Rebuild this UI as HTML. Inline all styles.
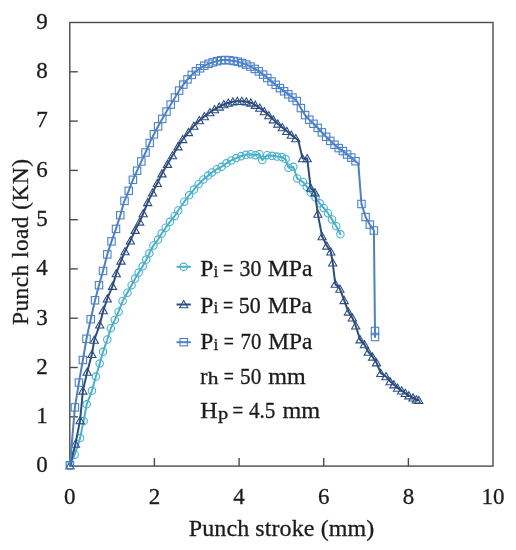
<!DOCTYPE html>
<html lang="en"><head><meta charset="utf-8"><title>Punch load vs punch stroke</title>
<style>html,body{margin:0;padding:0;background:#fff}body{width:516px;height:550px;overflow:hidden}svg{display:block}</style></head>
<body>
<svg width="516" height="550" viewBox="0 0 516 550">
<rect width="516" height="550" fill="#fff"/>
<rect x="69.8" y="22.5" width="423.2" height="443.6" fill="none" stroke="#4c4c4c" stroke-width="1.4"/>
<line x1="69.8" y1="416.8" x2="77.8" y2="416.8" stroke="#4c4c4c" stroke-width="1.4"/>
<line x1="69.8" y1="367.5" x2="77.8" y2="367.5" stroke="#4c4c4c" stroke-width="1.4"/>
<line x1="69.8" y1="318.2" x2="77.8" y2="318.2" stroke="#4c4c4c" stroke-width="1.4"/>
<line x1="69.8" y1="268.9" x2="77.8" y2="268.9" stroke="#4c4c4c" stroke-width="1.4"/>
<line x1="69.8" y1="219.7" x2="77.8" y2="219.7" stroke="#4c4c4c" stroke-width="1.4"/>
<line x1="69.8" y1="170.4" x2="77.8" y2="170.4" stroke="#4c4c4c" stroke-width="1.4"/>
<line x1="69.8" y1="121.1" x2="77.8" y2="121.1" stroke="#4c4c4c" stroke-width="1.4"/>
<line x1="69.8" y1="71.8" x2="77.8" y2="71.8" stroke="#4c4c4c" stroke-width="1.4"/>
<line x1="154.4" y1="466.1" x2="154.4" y2="458.1" stroke="#4c4c4c" stroke-width="1.4"/>
<line x1="239.1" y1="466.1" x2="239.1" y2="458.1" stroke="#4c4c4c" stroke-width="1.4"/>
<line x1="323.7" y1="466.1" x2="323.7" y2="458.1" stroke="#4c4c4c" stroke-width="1.4"/>
<line x1="408.4" y1="466.1" x2="408.4" y2="458.1" stroke="#4c4c4c" stroke-width="1.4"/>
<polyline fill="none" stroke="#48b0d0" stroke-width="2" stroke-linejoin="round" stroke-linecap="round" points="70.0,465.5 74.7,454.7 80.1,438.1 83.6,421.1 86.7,404.3 91.9,390.8 95.9,376.6 99.7,363.6 103.0,351.8 107.3,339.5 110.8,328.2 114.8,319.9 118.6,311.7 122.6,301.0 127.4,292.7 131.6,285.2 135.2,278.6 138.7,272.6 142.7,266.3 146.3,259.6 149.4,253.3 153.4,245.5 158.1,239.6 161.7,233.6 165.7,227.7 169.9,221.8 174.7,215.9 178.2,210.5 184.3,201.7 189.1,195.3 193.9,189.6 198.6,184.2 203.4,179.4 208.2,175.6 211.9,172.5 216.8,169.2 221.6,166.8 226.5,163.3 231.3,160.4 236.2,158.1 241.0,156.2 245.9,154.8 250.7,154.2 255.5,155.2 259.4,154.2 262.3,160.0 267.2,155.2 272.0,155.8 276.9,156.6 281.7,157.1 285.6,159.1 288.5,167.8 293.3,166.8 297.2,178.4 303.0,182.0 306.7,186.7 310.7,192.6 315.5,197.4 319.7,203.3 323.7,208.0 328.0,213.2 332.0,219.4 336.3,226.2 340.4,234.3"/>
<circle cx="70.0" cy="465.5" r="3.7" fill="none" stroke="#48b0d0" stroke-width="1.1"/>
<circle cx="74.7" cy="454.7" r="3.7" fill="none" stroke="#48b0d0" stroke-width="1.1"/>
<circle cx="80.1" cy="438.1" r="3.7" fill="none" stroke="#48b0d0" stroke-width="1.1"/>
<circle cx="83.6" cy="421.1" r="3.7" fill="none" stroke="#48b0d0" stroke-width="1.1"/>
<circle cx="86.7" cy="404.3" r="3.7" fill="none" stroke="#48b0d0" stroke-width="1.1"/>
<circle cx="91.9" cy="390.8" r="3.7" fill="none" stroke="#48b0d0" stroke-width="1.1"/>
<circle cx="95.9" cy="376.6" r="3.7" fill="none" stroke="#48b0d0" stroke-width="1.1"/>
<circle cx="99.7" cy="363.6" r="3.7" fill="none" stroke="#48b0d0" stroke-width="1.1"/>
<circle cx="103.0" cy="351.8" r="3.7" fill="none" stroke="#48b0d0" stroke-width="1.1"/>
<circle cx="107.3" cy="339.5" r="3.7" fill="none" stroke="#48b0d0" stroke-width="1.1"/>
<circle cx="110.8" cy="328.2" r="3.7" fill="none" stroke="#48b0d0" stroke-width="1.1"/>
<circle cx="114.8" cy="319.9" r="3.7" fill="none" stroke="#48b0d0" stroke-width="1.1"/>
<circle cx="118.6" cy="311.7" r="3.7" fill="none" stroke="#48b0d0" stroke-width="1.1"/>
<circle cx="122.6" cy="301.0" r="3.7" fill="none" stroke="#48b0d0" stroke-width="1.1"/>
<circle cx="127.4" cy="292.7" r="3.7" fill="none" stroke="#48b0d0" stroke-width="1.1"/>
<circle cx="131.6" cy="285.2" r="3.7" fill="none" stroke="#48b0d0" stroke-width="1.1"/>
<circle cx="135.2" cy="278.6" r="3.7" fill="none" stroke="#48b0d0" stroke-width="1.1"/>
<circle cx="138.7" cy="272.6" r="3.7" fill="none" stroke="#48b0d0" stroke-width="1.1"/>
<circle cx="142.7" cy="266.3" r="3.7" fill="none" stroke="#48b0d0" stroke-width="1.1"/>
<circle cx="146.3" cy="259.6" r="3.7" fill="none" stroke="#48b0d0" stroke-width="1.1"/>
<circle cx="149.4" cy="253.3" r="3.7" fill="none" stroke="#48b0d0" stroke-width="1.1"/>
<circle cx="153.4" cy="245.5" r="3.7" fill="none" stroke="#48b0d0" stroke-width="1.1"/>
<circle cx="158.1" cy="239.6" r="3.7" fill="none" stroke="#48b0d0" stroke-width="1.1"/>
<circle cx="161.7" cy="233.6" r="3.7" fill="none" stroke="#48b0d0" stroke-width="1.1"/>
<circle cx="165.7" cy="227.7" r="3.7" fill="none" stroke="#48b0d0" stroke-width="1.1"/>
<circle cx="169.9" cy="221.8" r="3.7" fill="none" stroke="#48b0d0" stroke-width="1.1"/>
<circle cx="174.7" cy="215.9" r="3.7" fill="none" stroke="#48b0d0" stroke-width="1.1"/>
<circle cx="178.2" cy="210.5" r="3.7" fill="none" stroke="#48b0d0" stroke-width="1.1"/>
<circle cx="184.3" cy="201.7" r="3.7" fill="none" stroke="#48b0d0" stroke-width="1.1"/>
<circle cx="189.1" cy="195.3" r="3.7" fill="none" stroke="#48b0d0" stroke-width="1.1"/>
<circle cx="193.9" cy="189.6" r="3.7" fill="none" stroke="#48b0d0" stroke-width="1.1"/>
<circle cx="198.6" cy="184.2" r="3.7" fill="none" stroke="#48b0d0" stroke-width="1.1"/>
<circle cx="203.4" cy="179.4" r="3.7" fill="none" stroke="#48b0d0" stroke-width="1.1"/>
<circle cx="208.2" cy="175.6" r="3.7" fill="none" stroke="#48b0d0" stroke-width="1.1"/>
<circle cx="211.9" cy="172.5" r="3.7" fill="none" stroke="#48b0d0" stroke-width="1.1"/>
<circle cx="216.8" cy="169.2" r="3.7" fill="none" stroke="#48b0d0" stroke-width="1.1"/>
<circle cx="221.6" cy="166.8" r="3.7" fill="none" stroke="#48b0d0" stroke-width="1.1"/>
<circle cx="226.5" cy="163.3" r="3.7" fill="none" stroke="#48b0d0" stroke-width="1.1"/>
<circle cx="231.3" cy="160.4" r="3.7" fill="none" stroke="#48b0d0" stroke-width="1.1"/>
<circle cx="236.2" cy="158.1" r="3.7" fill="none" stroke="#48b0d0" stroke-width="1.1"/>
<circle cx="241.0" cy="156.2" r="3.7" fill="none" stroke="#48b0d0" stroke-width="1.1"/>
<circle cx="245.9" cy="154.8" r="3.7" fill="none" stroke="#48b0d0" stroke-width="1.1"/>
<circle cx="250.7" cy="154.2" r="3.7" fill="none" stroke="#48b0d0" stroke-width="1.1"/>
<circle cx="255.5" cy="155.2" r="3.7" fill="none" stroke="#48b0d0" stroke-width="1.1"/>
<circle cx="259.4" cy="154.2" r="3.7" fill="none" stroke="#48b0d0" stroke-width="1.1"/>
<circle cx="262.3" cy="160.0" r="3.7" fill="none" stroke="#48b0d0" stroke-width="1.1"/>
<circle cx="267.2" cy="155.2" r="3.7" fill="none" stroke="#48b0d0" stroke-width="1.1"/>
<circle cx="272.0" cy="155.8" r="3.7" fill="none" stroke="#48b0d0" stroke-width="1.1"/>
<circle cx="276.9" cy="156.6" r="3.7" fill="none" stroke="#48b0d0" stroke-width="1.1"/>
<circle cx="281.7" cy="157.1" r="3.7" fill="none" stroke="#48b0d0" stroke-width="1.1"/>
<circle cx="285.6" cy="159.1" r="3.7" fill="none" stroke="#48b0d0" stroke-width="1.1"/>
<circle cx="288.5" cy="167.8" r="3.7" fill="none" stroke="#48b0d0" stroke-width="1.1"/>
<circle cx="293.3" cy="166.8" r="3.7" fill="none" stroke="#48b0d0" stroke-width="1.1"/>
<circle cx="297.2" cy="178.4" r="3.7" fill="none" stroke="#48b0d0" stroke-width="1.1"/>
<circle cx="303.0" cy="182.0" r="3.7" fill="none" stroke="#48b0d0" stroke-width="1.1"/>
<circle cx="306.7" cy="186.7" r="3.7" fill="none" stroke="#48b0d0" stroke-width="1.1"/>
<circle cx="310.7" cy="192.6" r="3.7" fill="none" stroke="#48b0d0" stroke-width="1.1"/>
<circle cx="315.5" cy="197.4" r="3.7" fill="none" stroke="#48b0d0" stroke-width="1.1"/>
<circle cx="319.7" cy="203.3" r="3.7" fill="none" stroke="#48b0d0" stroke-width="1.1"/>
<circle cx="323.7" cy="208.0" r="3.7" fill="none" stroke="#48b0d0" stroke-width="1.1"/>
<circle cx="328.0" cy="213.2" r="3.7" fill="none" stroke="#48b0d0" stroke-width="1.1"/>
<circle cx="332.0" cy="219.4" r="3.7" fill="none" stroke="#48b0d0" stroke-width="1.1"/>
<circle cx="336.3" cy="226.2" r="3.7" fill="none" stroke="#48b0d0" stroke-width="1.1"/>
<circle cx="340.4" cy="234.3" r="3.7" fill="none" stroke="#48b0d0" stroke-width="1.1"/>
<polyline fill="none" stroke="#2c4d82" stroke-width="2" stroke-linejoin="round" stroke-linecap="round" points="70.0,465.5 75.4,444.0 80.1,420.4 82.9,390.8 87.2,371.9 91.9,354.2 94.3,340.0 99.7,324.7 103.3,310.5 107.3,298.7 112.5,286.1 116.3,273.4 121.0,260.8 125.0,251.4 130.4,240.7 135.2,230.1 139.7,221.8 143.2,213.5 147.7,202.3 152.5,192.7 157.3,183.2 162.0,173.6 167.5,164.1 172.5,155.5 178.0,146.6 182.7,139.3 188.5,132.3 193.9,125.9 199.3,120.5 204.4,116.4 209.8,112.5 214.5,109.4 219.3,106.8 224.1,104.3 228.9,102.7 233.6,101.5 239.1,101.0 245.5,101.5 251.8,103.0 258.2,106.8 264.5,111.6 270.9,117.3 277.3,123.4 283.6,128.5 289.5,133.5 294.2,137.1 298.4,140.6 302.5,158.4 307.2,158.4 310.7,187.9 315.0,192.6 317.8,213.9 322.1,236.4 326.8,245.8 330.8,251.7 332.7,262.7 335.3,284.0 339.9,288.9 344.2,300.3 348.4,311.8 352.3,317.7 355.7,325.7 360.1,339.6 364.4,344.5 368.3,351.9 372.6,356.8 376.5,362.6 380.8,373.2 386.0,376.5 390.1,381.4 393.9,384.6 397.5,387.9 401.6,390.7 405.3,393.2 408.9,395.6 413.0,397.7 416.3,399.7 418.7,400.2"/>
<polygon points="70.0,461.6 74.1,468.8 65.9,468.8" fill="none" stroke="#2c4d82" stroke-width="1.1"/>
<polygon points="75.4,440.1 79.5,447.3 71.3,447.3" fill="none" stroke="#2c4d82" stroke-width="1.1"/>
<polygon points="80.1,416.5 84.2,423.7 76.0,423.7" fill="none" stroke="#2c4d82" stroke-width="1.1"/>
<polygon points="82.9,386.9 87.0,394.1 78.8,394.1" fill="none" stroke="#2c4d82" stroke-width="1.1"/>
<polygon points="87.2,368.0 91.3,375.2 83.1,375.2" fill="none" stroke="#2c4d82" stroke-width="1.1"/>
<polygon points="91.9,350.3 96.0,357.5 87.8,357.5" fill="none" stroke="#2c4d82" stroke-width="1.1"/>
<polygon points="94.3,336.1 98.4,343.3 90.2,343.3" fill="none" stroke="#2c4d82" stroke-width="1.1"/>
<polygon points="99.7,320.8 103.8,328.0 95.6,328.0" fill="none" stroke="#2c4d82" stroke-width="1.1"/>
<polygon points="103.3,306.6 107.4,313.8 99.2,313.8" fill="none" stroke="#2c4d82" stroke-width="1.1"/>
<polygon points="107.3,294.8 111.4,302.0 103.2,302.0" fill="none" stroke="#2c4d82" stroke-width="1.1"/>
<polygon points="112.5,282.2 116.6,289.4 108.4,289.4" fill="none" stroke="#2c4d82" stroke-width="1.1"/>
<polygon points="116.3,269.5 120.4,276.7 112.2,276.7" fill="none" stroke="#2c4d82" stroke-width="1.1"/>
<polygon points="121.0,256.9 125.1,264.1 116.9,264.1" fill="none" stroke="#2c4d82" stroke-width="1.1"/>
<polygon points="125.0,247.5 129.1,254.7 120.9,254.7" fill="none" stroke="#2c4d82" stroke-width="1.1"/>
<polygon points="130.4,236.8 134.5,244.0 126.3,244.0" fill="none" stroke="#2c4d82" stroke-width="1.1"/>
<polygon points="135.2,226.2 139.3,233.4 131.1,233.4" fill="none" stroke="#2c4d82" stroke-width="1.1"/>
<polygon points="139.7,217.9 143.8,225.1 135.6,225.1" fill="none" stroke="#2c4d82" stroke-width="1.1"/>
<polygon points="143.2,209.6 147.3,216.8 139.1,216.8" fill="none" stroke="#2c4d82" stroke-width="1.1"/>
<polygon points="147.7,198.4 151.8,205.6 143.6,205.6" fill="none" stroke="#2c4d82" stroke-width="1.1"/>
<polygon points="152.5,188.8 156.6,196.0 148.4,196.0" fill="none" stroke="#2c4d82" stroke-width="1.1"/>
<polygon points="157.3,179.3 161.4,186.5 153.2,186.5" fill="none" stroke="#2c4d82" stroke-width="1.1"/>
<polygon points="162.0,169.7 166.1,176.9 157.9,176.9" fill="none" stroke="#2c4d82" stroke-width="1.1"/>
<polygon points="167.5,160.2 171.6,167.4 163.4,167.4" fill="none" stroke="#2c4d82" stroke-width="1.1"/>
<polygon points="172.5,151.6 176.6,158.8 168.4,158.8" fill="none" stroke="#2c4d82" stroke-width="1.1"/>
<polygon points="178.0,142.7 182.1,149.9 173.9,149.9" fill="none" stroke="#2c4d82" stroke-width="1.1"/>
<polygon points="182.7,135.4 186.8,142.6 178.6,142.6" fill="none" stroke="#2c4d82" stroke-width="1.1"/>
<polygon points="188.5,128.4 192.6,135.6 184.4,135.6" fill="none" stroke="#2c4d82" stroke-width="1.1"/>
<polygon points="193.9,122.0 198.0,129.2 189.8,129.2" fill="none" stroke="#2c4d82" stroke-width="1.1"/>
<polygon points="199.3,116.6 203.4,123.8 195.2,123.8" fill="none" stroke="#2c4d82" stroke-width="1.1"/>
<polygon points="204.4,112.5 208.5,119.7 200.3,119.7" fill="none" stroke="#2c4d82" stroke-width="1.1"/>
<polygon points="209.8,108.6 213.9,115.8 205.7,115.8" fill="none" stroke="#2c4d82" stroke-width="1.1"/>
<polygon points="214.5,105.5 218.6,112.7 210.4,112.7" fill="none" stroke="#2c4d82" stroke-width="1.1"/>
<polygon points="219.3,102.9 223.4,110.1 215.2,110.1" fill="none" stroke="#2c4d82" stroke-width="1.1"/>
<polygon points="223.8,100.5 227.9,107.8 219.7,107.8" fill="none" stroke="#2c4d82" stroke-width="1.1"/>
<polygon points="228.3,99.0 232.4,106.2 224.2,106.2" fill="none" stroke="#2c4d82" stroke-width="1.1"/>
<polygon points="232.8,97.8 236.9,105.0 228.7,105.0" fill="none" stroke="#2c4d82" stroke-width="1.1"/>
<polygon points="237.3,97.3 241.4,104.5 233.2,104.5" fill="none" stroke="#2c4d82" stroke-width="1.1"/>
<polygon points="241.8,97.3 245.9,104.5 237.7,104.5" fill="none" stroke="#2c4d82" stroke-width="1.1"/>
<polygon points="246.3,97.8 250.4,105.0 242.2,105.0" fill="none" stroke="#2c4d82" stroke-width="1.1"/>
<polygon points="250.8,98.9 254.9,106.1 246.7,106.1" fill="none" stroke="#2c4d82" stroke-width="1.1"/>
<polygon points="255.3,101.2 259.4,108.4 251.2,108.4" fill="none" stroke="#2c4d82" stroke-width="1.1"/>
<polygon points="259.8,104.1 263.9,111.3 255.7,111.3" fill="none" stroke="#2c4d82" stroke-width="1.1"/>
<polygon points="264.3,107.5 268.4,114.8 260.2,114.8" fill="none" stroke="#2c4d82" stroke-width="1.1"/>
<polygon points="268.8,111.5 272.9,118.7 264.7,118.7" fill="none" stroke="#2c4d82" stroke-width="1.1"/>
<polygon points="273.3,115.7 277.4,122.9 269.2,122.9" fill="none" stroke="#2c4d82" stroke-width="1.1"/>
<polygon points="277.8,119.9 281.9,127.1 273.7,127.1" fill="none" stroke="#2c4d82" stroke-width="1.1"/>
<polygon points="282.3,123.5 286.4,130.8 278.2,130.8" fill="none" stroke="#2c4d82" stroke-width="1.1"/>
<polygon points="286.8,127.3 290.9,134.5 282.7,134.5" fill="none" stroke="#2c4d82" stroke-width="1.1"/>
<polygon points="291.3,131.0 295.4,138.2 287.2,138.2" fill="none" stroke="#2c4d82" stroke-width="1.1"/>
<polygon points="295.8,134.5 299.9,141.7 291.7,141.7" fill="none" stroke="#2c4d82" stroke-width="1.1"/>
<polygon points="302.5,154.5 306.6,161.7 298.4,161.7" fill="none" stroke="#2c4d82" stroke-width="1.1"/>
<polygon points="307.2,154.5 311.3,161.7 303.1,161.7" fill="none" stroke="#2c4d82" stroke-width="1.1"/>
<polygon points="310.7,184.0 314.8,191.2 306.6,191.2" fill="none" stroke="#2c4d82" stroke-width="1.1"/>
<polygon points="315.0,188.7 319.1,195.9 310.9,195.9" fill="none" stroke="#2c4d82" stroke-width="1.1"/>
<polygon points="317.8,210.0 321.9,217.2 313.7,217.2" fill="none" stroke="#2c4d82" stroke-width="1.1"/>
<polygon points="322.1,232.5 326.2,239.7 318.0,239.7" fill="none" stroke="#2c4d82" stroke-width="1.1"/>
<polygon points="326.8,241.9 330.9,249.1 322.7,249.1" fill="none" stroke="#2c4d82" stroke-width="1.1"/>
<polygon points="330.8,247.8 334.9,255.0 326.7,255.0" fill="none" stroke="#2c4d82" stroke-width="1.1"/>
<polygon points="332.7,258.8 336.8,266.0 328.6,266.0" fill="none" stroke="#2c4d82" stroke-width="1.1"/>
<polygon points="335.3,280.1 339.4,287.3 331.2,287.3" fill="none" stroke="#2c4d82" stroke-width="1.1"/>
<polygon points="339.9,285.0 344.0,292.2 335.8,292.2" fill="none" stroke="#2c4d82" stroke-width="1.1"/>
<polygon points="344.2,296.4 348.3,303.6 340.1,303.6" fill="none" stroke="#2c4d82" stroke-width="1.1"/>
<polygon points="348.4,307.9 352.5,315.1 344.3,315.1" fill="none" stroke="#2c4d82" stroke-width="1.1"/>
<polygon points="352.3,313.8 356.4,321.0 348.2,321.0" fill="none" stroke="#2c4d82" stroke-width="1.1"/>
<polygon points="355.7,321.8 359.8,329.0 351.6,329.0" fill="none" stroke="#2c4d82" stroke-width="1.1"/>
<polygon points="360.1,335.7 364.2,342.9 356.0,342.9" fill="none" stroke="#2c4d82" stroke-width="1.1"/>
<polygon points="364.4,340.6 368.5,347.8 360.3,347.8" fill="none" stroke="#2c4d82" stroke-width="1.1"/>
<polygon points="368.3,348.0 372.4,355.2 364.2,355.2" fill="none" stroke="#2c4d82" stroke-width="1.1"/>
<polygon points="372.6,352.9 376.7,360.1 368.5,360.1" fill="none" stroke="#2c4d82" stroke-width="1.1"/>
<polygon points="376.5,358.7 380.6,365.9 372.4,365.9" fill="none" stroke="#2c4d82" stroke-width="1.1"/>
<polygon points="380.8,369.3 384.9,376.5 376.7,376.5" fill="none" stroke="#2c4d82" stroke-width="1.1"/>
<polygon points="386.0,372.6 390.1,379.8 381.9,379.8" fill="none" stroke="#2c4d82" stroke-width="1.1"/>
<polygon points="390.1,377.5 394.2,384.7 386.0,384.7" fill="none" stroke="#2c4d82" stroke-width="1.1"/>
<polygon points="393.9,380.7 398.0,387.9 389.8,387.9" fill="none" stroke="#2c4d82" stroke-width="1.1"/>
<polygon points="397.5,384.0 401.6,391.2 393.4,391.2" fill="none" stroke="#2c4d82" stroke-width="1.1"/>
<polygon points="401.6,386.8 405.7,394.0 397.5,394.0" fill="none" stroke="#2c4d82" stroke-width="1.1"/>
<polygon points="405.3,389.3 409.4,396.5 401.2,396.5" fill="none" stroke="#2c4d82" stroke-width="1.1"/>
<polygon points="408.9,391.7 413.0,398.9 404.8,398.9" fill="none" stroke="#2c4d82" stroke-width="1.1"/>
<polygon points="413.0,393.8 417.1,401.0 408.9,401.0" fill="none" stroke="#2c4d82" stroke-width="1.1"/>
<polygon points="416.3,395.8 420.4,403.0 412.2,403.0" fill="none" stroke="#2c4d82" stroke-width="1.1"/>
<polygon points="418.7,396.3 422.8,403.5 414.6,403.5" fill="none" stroke="#2c4d82" stroke-width="1.1"/>
<polyline fill="none" stroke="#4b80ca" stroke-width="2" stroke-linejoin="round" stroke-linecap="round" points="69.9,465.3 74.9,407.4 78.9,382.6 82.9,360.0 86.5,338.8 90.7,319.2 95.0,300.3 99.0,285.2 103.0,271.0 107.3,254.4 111.5,241.4 116.0,228.9 120.3,215.2 123.9,202.3 128.6,191.1 132.8,180.0 137.5,169.8 142.3,159.3 146.8,149.8 150.9,140.2 155.7,130.7 160.5,122.1 165.2,113.8 169.4,106.8 174.1,98.9 178.9,90.9 183.4,84.5 188.5,78.2 193.2,73.4 198.6,69.3 203.4,66.1 208.2,63.9 213.0,62.3 217.7,61.0 222.5,60.0 227.3,60.0 232.0,60.7 237.5,61.6 245.5,64.2 251.8,67.2 258.2,70.9 264.5,75.6 270.9,81.0 277.3,86.1 283.6,90.9 290.0,95.5 296.4,100.5 301.1,108.4 305.9,116.4 310.7,121.1 316.6,126.7 320.2,130.5 324.4,135.1 328.5,139.1 332.5,143.0 336.7,146.5 340.3,149.4 343.8,151.7 347.4,154.8 350.9,157.2 354.5,160.4 358.3,163.6 361.5,204.0 365.6,217.0 369.8,224.6 373.9,230.5 375.0,331.0 375.0,337.0"/>
<rect x="66.2" y="461.6" width="7.4" height="7.4" fill="none" stroke="#4b80ca" stroke-width="1.1"/>
<rect x="71.2" y="403.7" width="7.4" height="7.4" fill="none" stroke="#4b80ca" stroke-width="1.1"/>
<rect x="75.2" y="378.9" width="7.4" height="7.4" fill="none" stroke="#4b80ca" stroke-width="1.1"/>
<rect x="79.2" y="356.3" width="7.4" height="7.4" fill="none" stroke="#4b80ca" stroke-width="1.1"/>
<rect x="82.8" y="335.1" width="7.4" height="7.4" fill="none" stroke="#4b80ca" stroke-width="1.1"/>
<rect x="87.0" y="315.5" width="7.4" height="7.4" fill="none" stroke="#4b80ca" stroke-width="1.1"/>
<rect x="91.3" y="296.6" width="7.4" height="7.4" fill="none" stroke="#4b80ca" stroke-width="1.1"/>
<rect x="95.3" y="281.5" width="7.4" height="7.4" fill="none" stroke="#4b80ca" stroke-width="1.1"/>
<rect x="99.3" y="267.3" width="7.4" height="7.4" fill="none" stroke="#4b80ca" stroke-width="1.1"/>
<rect x="103.6" y="250.7" width="7.4" height="7.4" fill="none" stroke="#4b80ca" stroke-width="1.1"/>
<rect x="107.8" y="237.7" width="7.4" height="7.4" fill="none" stroke="#4b80ca" stroke-width="1.1"/>
<rect x="112.3" y="225.2" width="7.4" height="7.4" fill="none" stroke="#4b80ca" stroke-width="1.1"/>
<rect x="116.6" y="211.5" width="7.4" height="7.4" fill="none" stroke="#4b80ca" stroke-width="1.1"/>
<rect x="120.8" y="197.2" width="7.4" height="7.4" fill="none" stroke="#4b80ca" stroke-width="1.1"/>
<rect x="125.0" y="187.1" width="7.4" height="7.4" fill="none" stroke="#4b80ca" stroke-width="1.1"/>
<rect x="129.2" y="176.1" width="7.4" height="7.4" fill="none" stroke="#4b80ca" stroke-width="1.1"/>
<rect x="133.4" y="167.0" width="7.4" height="7.4" fill="none" stroke="#4b80ca" stroke-width="1.1"/>
<rect x="137.6" y="157.8" width="7.4" height="7.4" fill="none" stroke="#4b80ca" stroke-width="1.1"/>
<rect x="141.8" y="148.8" width="7.4" height="7.4" fill="none" stroke="#4b80ca" stroke-width="1.1"/>
<rect x="146.0" y="139.3" width="7.4" height="7.4" fill="none" stroke="#4b80ca" stroke-width="1.1"/>
<rect x="150.2" y="130.6" width="7.4" height="7.4" fill="none" stroke="#4b80ca" stroke-width="1.1"/>
<rect x="154.4" y="122.7" width="7.4" height="7.4" fill="none" stroke="#4b80ca" stroke-width="1.1"/>
<rect x="158.6" y="115.2" width="7.4" height="7.4" fill="none" stroke="#4b80ca" stroke-width="1.1"/>
<rect x="162.8" y="107.9" width="7.4" height="7.4" fill="none" stroke="#4b80ca" stroke-width="1.1"/>
<rect x="167.0" y="100.9" width="7.4" height="7.4" fill="none" stroke="#4b80ca" stroke-width="1.1"/>
<rect x="171.2" y="93.9" width="7.4" height="7.4" fill="none" stroke="#4b80ca" stroke-width="1.1"/>
<rect x="175.4" y="86.9" width="7.4" height="7.4" fill="none" stroke="#4b80ca" stroke-width="1.1"/>
<rect x="179.6" y="80.9" width="7.4" height="7.4" fill="none" stroke="#4b80ca" stroke-width="1.1"/>
<rect x="183.8" y="75.7" width="7.4" height="7.4" fill="none" stroke="#4b80ca" stroke-width="1.1"/>
<rect x="188.0" y="71.2" width="7.4" height="7.4" fill="none" stroke="#4b80ca" stroke-width="1.1"/>
<rect x="192.2" y="67.6" width="7.4" height="7.4" fill="none" stroke="#4b80ca" stroke-width="1.1"/>
<rect x="196.4" y="64.6" width="7.4" height="7.4" fill="none" stroke="#4b80ca" stroke-width="1.1"/>
<rect x="200.6" y="62.0" width="7.4" height="7.4" fill="none" stroke="#4b80ca" stroke-width="1.1"/>
<rect x="204.8" y="60.1" width="7.4" height="7.4" fill="none" stroke="#4b80ca" stroke-width="1.1"/>
<rect x="209.0" y="58.7" width="7.4" height="7.4" fill="none" stroke="#4b80ca" stroke-width="1.1"/>
<rect x="213.2" y="57.5" width="7.4" height="7.4" fill="none" stroke="#4b80ca" stroke-width="1.1"/>
<rect x="217.4" y="56.6" width="7.4" height="7.4" fill="none" stroke="#4b80ca" stroke-width="1.1"/>
<rect x="221.6" y="56.3" width="7.4" height="7.4" fill="none" stroke="#4b80ca" stroke-width="1.1"/>
<rect x="225.8" y="56.6" width="7.4" height="7.4" fill="none" stroke="#4b80ca" stroke-width="1.1"/>
<rect x="230.0" y="57.3" width="7.4" height="7.4" fill="none" stroke="#4b80ca" stroke-width="1.1"/>
<rect x="234.2" y="58.0" width="7.4" height="7.4" fill="none" stroke="#4b80ca" stroke-width="1.1"/>
<rect x="238.4" y="59.4" width="7.4" height="7.4" fill="none" stroke="#4b80ca" stroke-width="1.1"/>
<rect x="242.6" y="60.9" width="7.4" height="7.4" fill="none" stroke="#4b80ca" stroke-width="1.1"/>
<rect x="246.8" y="62.9" width="7.4" height="7.4" fill="none" stroke="#4b80ca" stroke-width="1.1"/>
<rect x="251.0" y="65.2" width="7.4" height="7.4" fill="none" stroke="#4b80ca" stroke-width="1.1"/>
<rect x="255.2" y="67.7" width="7.4" height="7.4" fill="none" stroke="#4b80ca" stroke-width="1.1"/>
<rect x="259.4" y="70.9" width="7.4" height="7.4" fill="none" stroke="#4b80ca" stroke-width="1.1"/>
<rect x="263.6" y="74.3" width="7.4" height="7.4" fill="none" stroke="#4b80ca" stroke-width="1.1"/>
<rect x="267.8" y="77.8" width="7.4" height="7.4" fill="none" stroke="#4b80ca" stroke-width="1.1"/>
<rect x="272.0" y="81.1" width="7.4" height="7.4" fill="none" stroke="#4b80ca" stroke-width="1.1"/>
<rect x="276.2" y="84.4" width="7.4" height="7.4" fill="none" stroke="#4b80ca" stroke-width="1.1"/>
<rect x="280.4" y="87.6" width="7.4" height="7.4" fill="none" stroke="#4b80ca" stroke-width="1.1"/>
<rect x="284.6" y="90.6" width="7.4" height="7.4" fill="none" stroke="#4b80ca" stroke-width="1.1"/>
<rect x="288.8" y="93.8" width="7.4" height="7.4" fill="none" stroke="#4b80ca" stroke-width="1.1"/>
<rect x="293.0" y="97.3" width="7.4" height="7.4" fill="none" stroke="#4b80ca" stroke-width="1.1"/>
<rect x="297.2" y="104.4" width="7.4" height="7.4" fill="none" stroke="#4b80ca" stroke-width="1.1"/>
<rect x="301.4" y="111.4" width="7.4" height="7.4" fill="none" stroke="#4b80ca" stroke-width="1.1"/>
<rect x="305.6" y="116.0" width="7.4" height="7.4" fill="none" stroke="#4b80ca" stroke-width="1.1"/>
<rect x="309.8" y="120.1" width="7.4" height="7.4" fill="none" stroke="#4b80ca" stroke-width="1.1"/>
<rect x="314.0" y="124.2" width="7.4" height="7.4" fill="none" stroke="#4b80ca" stroke-width="1.1"/>
<rect x="318.2" y="128.7" width="7.4" height="7.4" fill="none" stroke="#4b80ca" stroke-width="1.1"/>
<rect x="322.4" y="133.1" width="7.4" height="7.4" fill="none" stroke="#4b80ca" stroke-width="1.1"/>
<rect x="326.6" y="137.2" width="7.4" height="7.4" fill="none" stroke="#4b80ca" stroke-width="1.1"/>
<rect x="330.8" y="141.0" width="7.4" height="7.4" fill="none" stroke="#4b80ca" stroke-width="1.1"/>
<rect x="335.0" y="144.4" width="7.4" height="7.4" fill="none" stroke="#4b80ca" stroke-width="1.1"/>
<rect x="339.2" y="147.4" width="7.4" height="7.4" fill="none" stroke="#4b80ca" stroke-width="1.1"/>
<rect x="343.4" y="150.8" width="7.4" height="7.4" fill="none" stroke="#4b80ca" stroke-width="1.1"/>
<rect x="347.6" y="153.9" width="7.4" height="7.4" fill="none" stroke="#4b80ca" stroke-width="1.1"/>
<rect x="351.8" y="157.5" width="7.4" height="7.4" fill="none" stroke="#4b80ca" stroke-width="1.1"/>
<rect x="357.8" y="200.3" width="7.4" height="7.4" fill="none" stroke="#4b80ca" stroke-width="1.1"/>
<rect x="361.9" y="213.3" width="7.4" height="7.4" fill="none" stroke="#4b80ca" stroke-width="1.1"/>
<rect x="366.1" y="220.9" width="7.4" height="7.4" fill="none" stroke="#4b80ca" stroke-width="1.1"/>
<rect x="370.2" y="226.8" width="7.4" height="7.4" fill="none" stroke="#4b80ca" stroke-width="1.1"/>
<rect x="371.3" y="327.3" width="7.4" height="7.4" fill="none" stroke="#4b80ca" stroke-width="1.1"/>
<rect x="371.3" y="333.3" width="7.4" height="7.4" fill="none" stroke="#4b80ca" stroke-width="1.1"/>
<line x1="176.5" y1="266.8" x2="190.8" y2="266.8" stroke="#48b0d0" stroke-width="2"/>
<circle cx="183.7" cy="266.8" r="3.7" fill="none" stroke="#48b0d0" stroke-width="1.1"/>
<line x1="176.5" y1="304.5" x2="190.8" y2="304.5" stroke="#2c4d82" stroke-width="2"/>
<polygon points="183.7,300.6 187.8,307.8 179.6,307.8" fill="none" stroke="#2c4d82" stroke-width="1.1"/>
<line x1="176.5" y1="342.2" x2="190.8" y2="342.2" stroke="#4b80ca" stroke-width="2"/>
<rect x="180.0" y="338.5" width="7.4" height="7.4" fill="none" stroke="#4b80ca" stroke-width="1.1"/>
<g font-family="'Liberation Serif', serif">
<text x="47.8" y="472.4" text-anchor="end" font-size="23" fill="#1c1c1c" stroke="#1c1c1c" stroke-width="0.3">0</text>
<text x="47.8" y="423.1" text-anchor="end" font-size="23" fill="#1c1c1c" stroke="#1c1c1c" stroke-width="0.3">1</text>
<text x="47.8" y="373.8" text-anchor="end" font-size="23" fill="#1c1c1c" stroke="#1c1c1c" stroke-width="0.3">2</text>
<text x="47.8" y="324.5" text-anchor="end" font-size="23" fill="#1c1c1c" stroke="#1c1c1c" stroke-width="0.3">3</text>
<text x="47.8" y="275.2" text-anchor="end" font-size="23" fill="#1c1c1c" stroke="#1c1c1c" stroke-width="0.3">4</text>
<text x="47.8" y="226.0" text-anchor="end" font-size="23" fill="#1c1c1c" stroke="#1c1c1c" stroke-width="0.3">5</text>
<text x="47.8" y="176.7" text-anchor="end" font-size="23" fill="#1c1c1c" stroke="#1c1c1c" stroke-width="0.3">6</text>
<text x="47.8" y="127.4" text-anchor="end" font-size="23" fill="#1c1c1c" stroke="#1c1c1c" stroke-width="0.3">7</text>
<text x="47.8" y="78.1" text-anchor="end" font-size="23" fill="#1c1c1c" stroke="#1c1c1c" stroke-width="0.3">8</text>
<text x="47.8" y="28.8" text-anchor="end" font-size="23" fill="#1c1c1c" stroke="#1c1c1c" stroke-width="0.3">9</text>
<text x="69.8" y="504" text-anchor="middle" font-size="23" fill="#1c1c1c" stroke="#1c1c1c" stroke-width="0.3">0</text>
<text x="154.4" y="504" text-anchor="middle" font-size="23" fill="#1c1c1c" stroke="#1c1c1c" stroke-width="0.3">2</text>
<text x="239.1" y="504" text-anchor="middle" font-size="23" fill="#1c1c1c" stroke="#1c1c1c" stroke-width="0.3">4</text>
<text x="323.7" y="504" text-anchor="middle" font-size="23" fill="#1c1c1c" stroke="#1c1c1c" stroke-width="0.3">6</text>
<text x="408.4" y="504" text-anchor="middle" font-size="23" fill="#1c1c1c" stroke="#1c1c1c" stroke-width="0.3">8</text>
<text x="493.0" y="504" text-anchor="middle" font-size="23" fill="#1c1c1c" stroke="#1c1c1c" stroke-width="0.3">10</text>
<text x="281.5" y="536" text-anchor="middle" font-size="24" fill="#1c1c1c" stroke="#1c1c1c" stroke-width="0.3" textLength="185.5" lengthAdjust="spacing">Punch stroke (mm)</text>
<text transform="translate(28.2,242) rotate(-90)" text-anchor="middle" font-size="23.4" fill="#1c1c1c" stroke="#1c1c1c" stroke-width="0.3" textLength="166" lengthAdjust="spacing">Punch load (KN)</text>
<text y="276.0" font-size="22.3" fill="#1c1c1c" stroke="#1c1c1c" stroke-width="0.3"><tspan x="200.2" font-size="22.3" textLength="12.2" lengthAdjust="spacingAndGlyphs">P</tspan> <tspan x="213.6" dy="0.6" font-size="17" textLength="4.9" lengthAdjust="spacingAndGlyphs">i</tspan> <tspan x="222.9" dy="-0.6" font-size="22.3" textLength="10.2" lengthAdjust="spacingAndGlyphs">=</tspan> <tspan x="239.5" font-size="22.3" textLength="21.8" lengthAdjust="spacingAndGlyphs">30</tspan> <tspan x="267.8" font-size="22.3" textLength="44.7" lengthAdjust="spacingAndGlyphs">MPa</tspan></text>
<text y="312.5" font-size="22.3" fill="#1c1c1c" stroke="#1c1c1c" stroke-width="0.3"><tspan x="200.2" font-size="22.3" textLength="12.2" lengthAdjust="spacingAndGlyphs">P</tspan> <tspan x="213.6" dy="0.6" font-size="17" textLength="4.9" lengthAdjust="spacingAndGlyphs">i</tspan> <tspan x="222.9" dy="-0.6" font-size="22.3" textLength="10.2" lengthAdjust="spacingAndGlyphs">=</tspan> <tspan x="238.8" font-size="22.3" textLength="22.0" lengthAdjust="spacingAndGlyphs">50</tspan> <tspan x="267.8" font-size="22.3" textLength="44.0" lengthAdjust="spacingAndGlyphs">MPa</tspan></text>
<text y="349.4" font-size="22.3" fill="#1c1c1c" stroke="#1c1c1c" stroke-width="0.3"><tspan x="200.2" font-size="22.3" textLength="12.2" lengthAdjust="spacingAndGlyphs">P</tspan> <tspan x="213.6" dy="0.6" font-size="17" textLength="4.9" lengthAdjust="spacingAndGlyphs">i</tspan> <tspan x="223.7" dy="-0.6" font-size="22.3" textLength="10.1" lengthAdjust="spacingAndGlyphs">=</tspan> <tspan x="240.6" font-size="22.3" textLength="20.7" lengthAdjust="spacingAndGlyphs">70</tspan> <tspan x="268.3" font-size="22.3" textLength="44.2" lengthAdjust="spacingAndGlyphs">MPa</tspan></text>
<text y="383.5" font-size="22.3" fill="#1c1c1c" stroke="#1c1c1c" stroke-width="0.3"><tspan x="200.2" font-size="22.3" textLength="7.2" lengthAdjust="spacingAndGlyphs">r</tspan> <tspan x="207.8" dy="0.2" font-size="17" textLength="10.7" lengthAdjust="spacingAndGlyphs">h</tspan> <tspan x="223.7" dy="-0.2" font-size="22.3" textLength="10.1" lengthAdjust="spacingAndGlyphs">=</tspan> <tspan x="240.1" font-size="22.3" textLength="21.2" lengthAdjust="spacingAndGlyphs">50</tspan> <tspan x="268.3" font-size="22.3" textLength="37.4" lengthAdjust="spacingAndGlyphs">mm</tspan></text>
<text y="418.2" font-size="22.3" fill="#1c1c1c" stroke="#1c1c1c" stroke-width="0.3"><tspan x="200.2" font-size="22.3" textLength="17.3" lengthAdjust="spacingAndGlyphs">H</tspan> <tspan x="217.9" dy="1.2" font-size="17" textLength="10.2" lengthAdjust="spacingAndGlyphs">p</tspan> <tspan x="232.5" dy="-1.2" font-size="22.3" textLength="10.7" lengthAdjust="spacingAndGlyphs">=</tspan> <tspan x="248.9" font-size="22.3" textLength="26.5" lengthAdjust="spacingAndGlyphs">4.5</tspan> <tspan x="282.4" font-size="22.3" textLength="37.6" lengthAdjust="spacingAndGlyphs">mm</tspan></text>
</g>
</svg>
</body></html>
